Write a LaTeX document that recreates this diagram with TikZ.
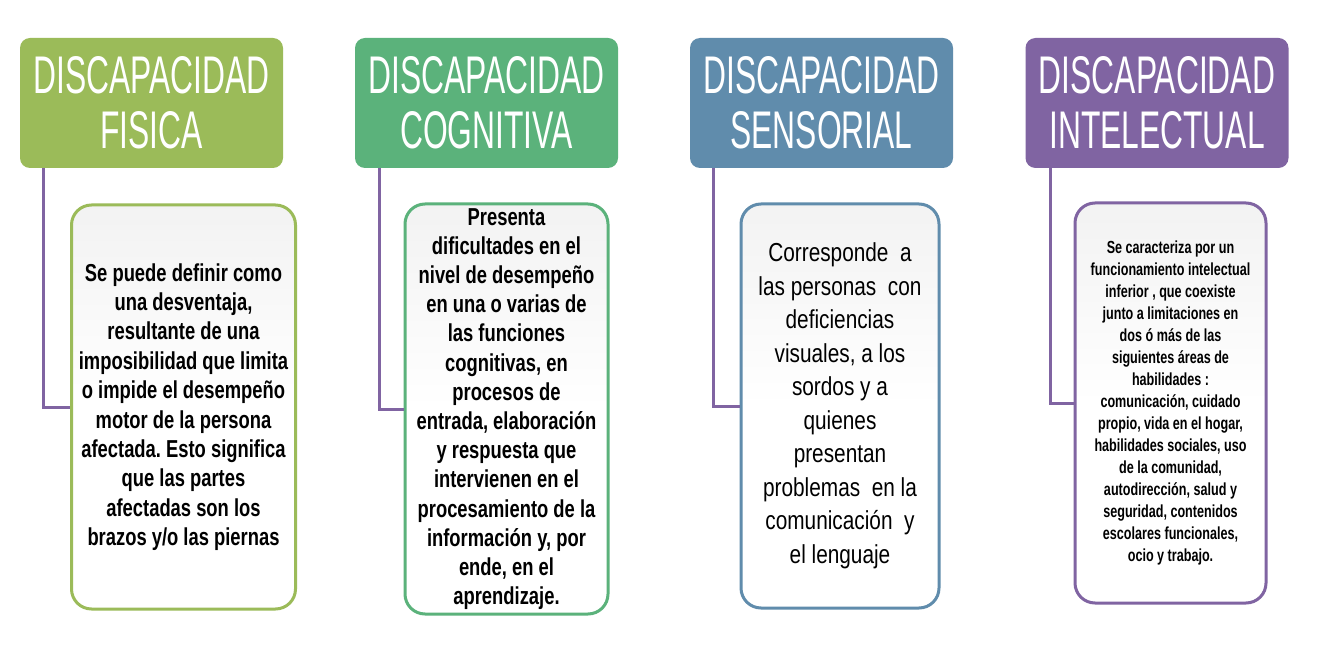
\documentclass[tikz,border=0pt]{standalone}
\usepackage{fontspec}
\setmainfont{Liberation Sans}
\newfontfamily\headfont[FakeStretch=0.6]{Liberation Sans}
\newfontfamily\bodyfont[FakeStretch=0.75]{Liberation Sans}
\newfontfamily\sensfont[FakeStretch=0.8]{Liberation Sans}
\newfontfamily\smallfont[FakeStretch=0.72]{Liberation Sans}
\definecolor{cfis}{HTML}{9BBB59}
\definecolor{ccog}{HTML}{5BB27B}
\definecolor{csen}{HTML}{608CAC}
\definecolor{cint}{HTML}{8064A2}
\definecolor{cline}{HTML}{8064A2}
\frenchspacing
\tikzset{
  header/.style={rectangle, rounded corners=10pt, fill=#1, draw=none,
    minimum width=263pt, minimum height=130pt, inner sep=0pt, align=center,
    text=white, font=\headfont\fontsize{53}{55}\selectfont},
  bodybox/.style={rectangle, rounded corners=20pt, draw=#1, line width=3pt,
    top color=black!5, bottom color=white, middle color=white,
    inner sep=0pt, align=center, text=black},
  conn/.style={draw=cline, line width=3pt}
}
\begin{document}
\begin{tikzpicture}[x=1pt,y=-1pt]
\useasboundingbox (0,0) rectangle (1322,652);
\fill[white] (0,0) rectangle (1322,652);

% headers
\node[header=cfis] (h1) at (151.5,103) {DISCAPACIDAD\\FISICA};
\node[header=ccog] (h2) at (486.5,103) {DISCAPACIDAD\\COGNITIVA};
\node[header=csen] (h3) at (821.5,103) {DISCAPACIDAD\\SENSORIAL};
\node[header=cint] (h4) at (1157,103) {DISCAPACIDAD\\INTELECTUAL};

% bodies
\node[bodybox=cfis, minimum width=224pt, minimum height=404pt,
  font=\bodyfont\bfseries\fontsize{24.5}{29.4}\selectfont] (b1) at (183.5,407)
  {\frenchspacing Se puede definir como\\una desventaja,\\resultante de una\\imposibilidad que limita\\o impide el desempeño\\motor de la persona\\afectada. Esto significa\\que las partes\\afectadas son los\\brazos y/o las piernas};

\node[bodybox=ccog, minimum width=203pt, minimum height=410pt,
  font=\bodyfont\bfseries\fontsize{24.5}{29.2}\selectfont] (b2) at (506.5,409)
  {Presenta\\dificultades en el\\nivel de desempeño\\en una o varias de\\las funciones\\cognitivas, en\\procesos de\\entrada, elaboración\\y respuesta que\\intervienen en el\\procesamiento de la\\información y, por\\ende, en el\\aprendizaje.};

\node[bodybox=csen, minimum width=198pt, minimum height=404pt,
  font=\sensfont\fontsize{26}{33.5}\selectfont] (b3) at (840,406)
  {Corresponde\ \ a\\las personas\ \ con\\deficiencias\\visuales, a los\\sordos y a\\quienes\\presentan\\problemas\ \ en la\\comunicación\ \ y\\el lenguaje};

\node[bodybox=cint, minimum width=191pt, minimum height=400pt,
  font=\smallfont\bfseries\fontsize{17.5}{22}\selectfont] (b4) at (1170.5,403)
  {Se caracteriza por un\\funcionamiento intelectual\\inferior , que coexiste\\junto a limitaciones en\\dos ó más de las\\siguientes áreas de\\habilidades :\\comunicación, cuidado\\propio, vida en el hogar,\\habilidades sociales, uso\\de la comunidad,\\autodirección, salud y\\seguridad, contenidos\\escolares funcionales,\\ocio y trabajo.};

% connectors
\draw[conn] ([xshift=24pt]h1.south west) |- (b1.west);
\draw[conn] ([xshift=25pt]h2.south west) |- (b2.west);
\draw[conn] ([xshift=24pt]h3.south west) |- (b3.west);
\draw[conn] ([xshift=25pt]h4.south west) |- (b4.west);
\end{tikzpicture}
\end{document}
